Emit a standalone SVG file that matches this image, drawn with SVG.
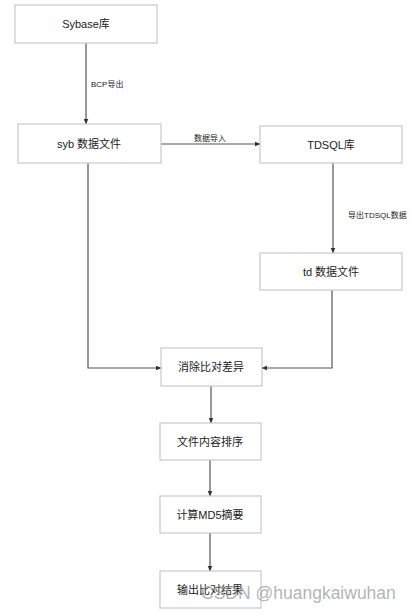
<svg xmlns="http://www.w3.org/2000/svg" width="414" height="614" viewBox="0 0 414 614">
<defs>
<marker id="ah" viewBox="0 0 10 10" refX="9" refY="5" markerWidth="6" markerHeight="6" orient="auto" markerUnits="userSpaceOnUse">
<path d="M0,1 L10,5 L0,9 Z" fill="#333"/>
</marker>
</defs>
<style>
.box{fill:#fff;stroke:#c8c8c8;stroke-width:1.2}
.t{font-family:"Liberation Sans","Noto Sans CJK SC",sans-serif;font-size:11px;fill:#222;text-anchor:middle;dominant-baseline:central}
.l{font-family:"Liberation Sans","Noto Sans CJK SC",sans-serif;font-size:8px;fill:#222;dominant-baseline:central}
.c{fill:none;stroke:#555;stroke-width:1.2;marker-end:url(#ah)}
.wm{font-family:"Liberation Sans","Noto Sans CJK SC",sans-serif;font-size:17.5px;fill:#9a9a9a;fill-opacity:0.75}
</style>
<rect width="414" height="614" fill="#fff"/>
<g id="connectors">
<path class="c" d="M86,43 V124"/>
<text class="l" x="91" y="84">BCP导出</text>
<path class="c" d="M161,144 H260"/>
<text class="l" x="210" y="138" text-anchor="middle">数据导入</text>
<path class="c" d="M333,163 V253"/>
<text class="l" x="348" y="215">导出TDSQL数据</text>
<path class="c" d="M88,163 V368 H161"/>
<path class="c" d="M332,290 V368 H262"/>
<path class="c" d="M211,386 V423"/>
<path class="c" d="M210,460 V496"/>
<path class="c" d="M210,533 V571"/>
</g>
<g id="sybase"><rect class="box" x="15" y="5" width="142" height="38"/><text class="t" x="86" y="24">Sybase库</text></g>
<g id="sybfile"><rect class="box" x="18" y="124" width="143" height="39"/><text class="t" x="89" y="144">syb 数据文件</text></g>
<g id="tdsql"><rect class="box" x="260" y="126" width="142" height="37"/><text class="t" x="331" y="145">TDSQL库</text></g>
<g id="tdfile"><rect class="box" x="260" y="253" width="142" height="37"/><text class="t" x="331" y="272">td 数据文件</text></g>
<g id="diff"><rect class="box" x="161" y="348" width="101" height="38"/><text class="t" x="211" y="367">消除比对差异</text></g>
<g id="sort"><rect class="box" x="160" y="423" width="101" height="37"/><text class="t" x="210" y="442">文件内容排序</text></g>
<g id="md5"><rect class="box" x="160" y="496" width="101" height="37"/><text class="t" x="210" y="515">计算MD5摘要</text></g>
<g id="result"><rect class="box" x="160" y="571" width="101" height="37"/><text class="t" x="210" y="590">输出比对结果</text></g>
<text class="wm" x="201" y="599">CSDN @huangkaiwuhan</text>
</svg>
